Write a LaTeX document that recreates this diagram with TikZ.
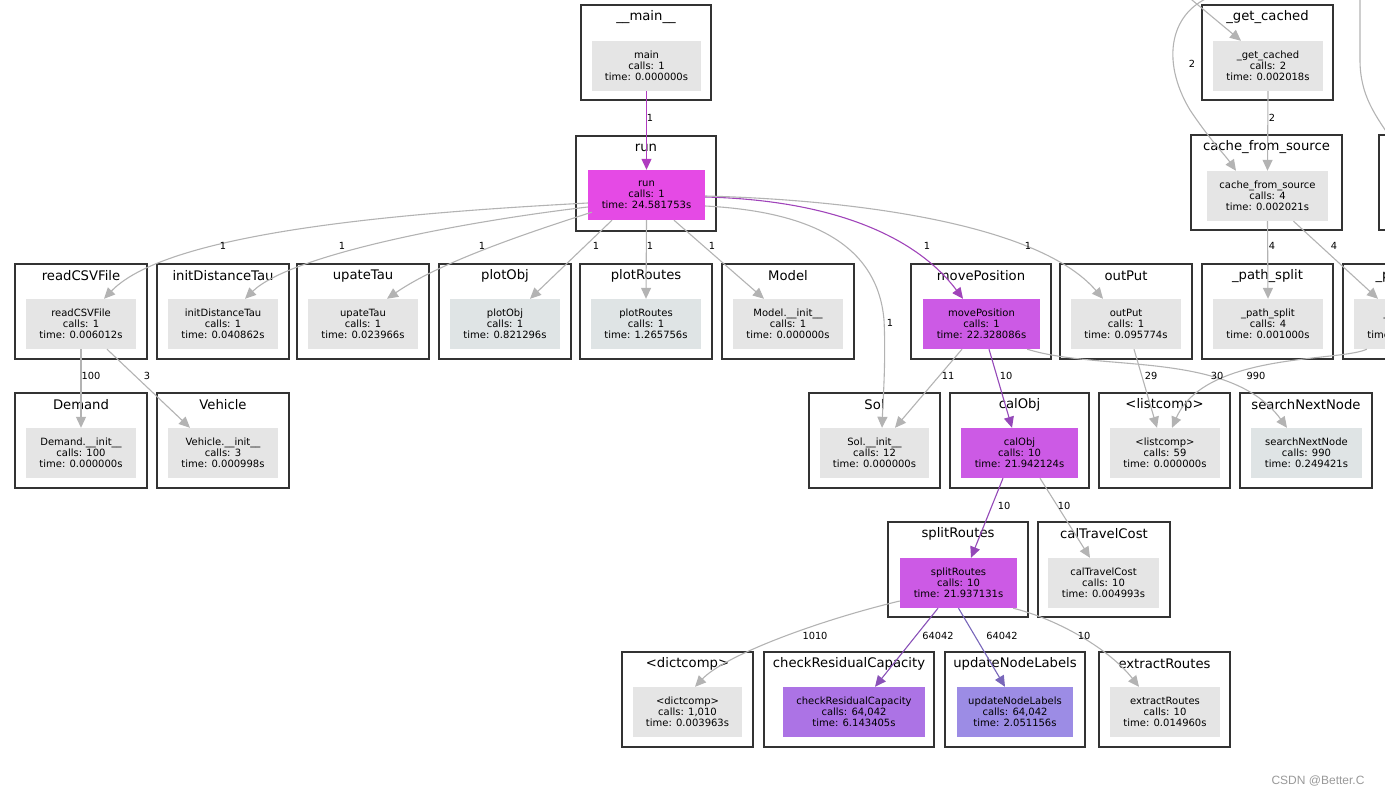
\documentclass[tikz,border=0pt]{standalone}
\usepackage{fontspec}
\setmainfont{DejaVu Sans}
\newfontfamily\wmfont{Liberation Sans}
\usetikzlibrary{arrows.meta,calc}
\definecolor{gbox}{HTML}{E5E5E5}
\definecolor{bbox}{HTML}{DFE4E5}
\definecolor{magA}{HTML}{E54AE5}
\definecolor{magB}{HTML}{CC5AE5}
\definecolor{purC}{HTML}{AC73E5}
\definecolor{purD}{HTML}{9C8CE5}
\definecolor{egray}{HTML}{B3B3B3}
\definecolor{epA}{HTML}{B03CC0}
\definecolor{epB}{HTML}{A044BA}
\definecolor{epC}{HTML}{9448B8}
\definecolor{epD}{HTML}{8A52B8}
\definecolor{epE}{HTML}{7866BA}
\definecolor{frame}{HTML}{333333}
\newcommand\Clu[5]{\node[clu, minimum width=#4] (c#1) at (#2,#3+47.5) {}; \node[ttl] (t#1) at (#2,#3+12) {#5};}
\newcommand\Inn[6]{\node[inn, fill=#5, minimum width=#4] (#1) at (#2,#3+25) {#6};}
\begin{document}
\begin{tikzpicture}[x=1pt,y=-1pt,
  clu/.style={draw=frame, line width=2.5pt, fill=white, rectangle, minimum height=95pt, inner sep=0pt},
  ttl/.style={font=\fontsize{13.2}{15}\selectfont, inner sep=0pt},
  inn/.style={rectangle, minimum height=50pt, inner sep=0pt, align=center, font=\fontsize{10}{11}\selectfont},
  ed/.style={draw=egray, line width=1.1pt, -{Triangle[length=11pt,width=10pt]}},
  edp/.style={line width=1.1pt, -{Triangle[length=11pt,width=10pt]}},
  lbl/.style={font=\fontsize{9.8}{11}\selectfont, inner sep=0pt}
]
\useasboundingbox (0,0) rectangle (1385,795);
\begin{scope}
\clip (0,0) rectangle (1385,795);
% clusters
\Clu{main}{646}{5}{130}{\_\_main\_\_}
\Clu{run}{646}{136}{140}{run}
\Clu{readcsv}{81}{264}{132}{readCSVFile}
\Clu{initdt}{223}{264}{132}{initDistanceTau}
\Clu{upate}{363}{264}{132}{upateTau}
\Clu{plotobj}{505}{264}{132}{plotObj}
\Clu{plotroutes}{646}{264}{132}{plotRoutes}
\Clu{model}{788}{264}{132}{Model}
\Clu{movepos}{981}{264}{140}{movePosition}
\Clu{output}{1126}{264}{132}{outPut}
\Clu{pathsplit}{1267.5}{264}{131}{\_path\_split}
\Clu{pathjoin}{1409}{264}{132}{\_path\_join}
\Clu{getcached}{1267.5}{5}{131}{\_get\_cached}
\Clu{cfs}{1266.5}{135}{151}{cache\_from\_source}
\node[clu, minimum width=132pt] (cright) at (1445,182.5) {};
\Clu{demand}{81}{393}{132}{Demand}
\Clu{vehicle}{223}{393}{132}{Vehicle}
\Clu{sol}{874.5}{393}{131}{Sol}
\Clu{calobj}{1019.5}{393}{139}{calObj}
\Clu{listcomp}{1164.5}{393}{131}{<listcomp>}
\Clu{search}{1306}{393}{132}{searchNextNode}
\Clu{split}{958}{522}{140}{splitRoutes}
\Clu{travel}{1104}{522}{132}{calTravelCost}
\Clu{dict}{687.5}{652}{131}{<dictcomp>}
\Clu{check}{849}{652}{170}{checkResidualCapacity}
\Clu{update}{1015}{652}{140}{updateNodeLabels}
\Clu{extract}{1164.5}{652}{131}{extractRoutes}
% inner boxes
\Inn{main}{646.5}{41}{109}{gbox}{main\\calls: 1\\time: 0.000000s}
\Inn{run}{646.5}{170}{117}{magA}{run\\calls: 1\\time: 24.581753s}
\Inn{readcsv}{81}{299}{110}{gbox}{readCSVFile\\calls: 1\\time: 0.006012s}
\Inn{initdt}{223}{299}{110}{gbox}{initDistanceTau\\calls: 1\\time: 0.040862s}
\Inn{upate}{363}{299}{110}{gbox}{upateTau\\calls: 1\\time: 0.023966s}
\Inn{plotobj}{505}{299}{110}{bbox}{plotObj\\calls: 1\\time: 0.821296s}
\Inn{plotroutes}{646}{299}{110}{bbox}{plotRoutes\\calls: 1\\time: 1.265756s}
\Inn{model}{788}{299}{110}{gbox}{Model.\_\_init\_\_\\calls: 1\\time: 0.000000s}
\Inn{movepos}{981.5}{299}{117}{magB}{movePosition\\calls: 1\\time: 22.328086s}
\Inn{output}{1126}{299}{110}{gbox}{outPut\\calls: 1\\time: 0.095774s}
\Inn{pathsplit}{1268}{299}{110}{gbox}{\_path\_split\\calls: 4\\time: 0.001000s}
\Inn{pathjoin}{1409}{299}{110}{gbox}{\_path\_join\\calls: 4\\time: 0.000000s}
\Inn{getcached}{1268}{41}{110}{gbox}{\_get\_cached\\calls: 2\\time: 0.002018s}
\Inn{cfs}{1267.5}{171}{121}{gbox}{cache\_from\_source\\calls: 4\\time: 0.002021s}
\Inn{demand}{81}{428}{110}{gbox}{Demand.\_\_init\_\_\\calls: 100\\time: 0.000000s}
\Inn{vehicle}{223}{428}{110}{gbox}{Vehicle.\_\_init\_\_\\calls: 3\\time: 0.000998s}
\Inn{sol}{874.5}{428}{109}{gbox}{Sol.\_\_init\_\_\\calls: 12\\time: 0.000000s}
\Inn{calobj}{1019.5}{428}{117}{magB}{calObj\\calls: 10\\time: 21.942124s}
\Inn{listcomp}{1165}{428}{110}{gbox}{<listcomp>\\calls: 59\\time: 0.000000s}
\Inn{search}{1306.5}{428}{111}{bbox}{searchNextNode\\calls: 990\\time: 0.249421s}
\Inn{split}{958.5}{558}{117}{magB}{splitRoutes\\calls: 10\\time: 21.937131s}
\Inn{travel}{1103.5}{558}{111}{gbox}{calTravelCost\\calls: 10\\time: 0.004993s}
\Inn{dict}{687.5}{687}{109}{gbox}{<dictcomp>\\calls: 1,010\\time: 0.003963s}
\Inn{check}{854}{687}{142}{purC}{checkResidualCapacity\\calls: 64,042\\time: 6.143405s}
\Inn{update}{1015}{687}{116}{purD}{updateNodeLabels\\calls: 64,042\\time: 2.051156s}
\Inn{extract}{1165}{687}{110}{gbox}{extractRoutes\\calls: 10\\time: 0.014960s}
% free ends
\coordinate (topA) at (1186,-5);
\coordinate (topB) at (1215,-5);
\coordinate (topC) at (1360,-5);
\coordinate (rightC) at (1392,140);
% edges
\draw[edp, draw=epA, -{Triangle[length=11pt,width=10pt,fill=epA]}] (main.south) -- (run.north);
\draw[ed] ($(run.west)+(0,8)$) .. controls (420,212) and (170,230) .. ($(readcsv.north)+(23,0)$);
\draw[ed] ($(run.west)+(0,12)$) .. controls (460,222) and (290,255) .. ($(initdt.north)+(22,0)$);
\draw[ed] ($(run.south west)+(4,-8)$) .. controls (530,232) and (440,262) .. ($(upate.north)+(24,0)$);
\draw[ed] ($(run.south)+(-34.5,0)$) -- ($(plotobj.north)+(25,0)$);
\draw[ed] (run.south) -- (plotroutes.north);
\draw[ed] ($(run.south)+(27.5,0)$) -- ($(model.north)+(-24,0)$);
\draw[ed] ($(run.east)+(0,11)$) .. controls (820,212) and (878,250) .. (884,320) .. controls (886,360) and (883,400) .. ($(sol.north)+(7.5,0)$);
\draw[edp, draw=epB, -{Triangle[length=11pt,width=10pt,fill=epB]}] ($(run.east)+(0,2)$) .. controls (830,200) and (915,235) .. ($(movepos.north)+(-18.5,0)$);
\draw[ed] ($(run.east)+(0,1)$) .. controls (860,200) and (1040,225) .. ($(output.north)+(-23,0)$);
\draw[ed] (readcsv.south) -- (demand.north);
\draw[ed] ($(readcsv.south)+(26,0)$) -- ($(vehicle.north)+(-33,0)$);
\draw[ed] ($(movepos.south)+(-19.5,0)$) -- ($(sol.north)+(20.5,0)$);
\draw[edp, draw=epC, -{Triangle[length=11pt,width=10pt,fill=epC]}] ($(movepos.south)+(7.5,0)$) -- ($(calobj.north)+(-7.5,0)$);
\draw[ed] ($(movepos.south east)+(-13,0)$) .. controls (1100,372) and (1230,350) .. ($(search.north)+(-19.5,0)$);
\draw[ed] ($(output.south)+(8,0)$) -- ($(listcomp.north)+(-8,0)$);
\draw[ed] ($(pathjoin.south west)+(13,0)$) .. controls (1340,362) and (1205,352) .. ($(listcomp.north)+(7,0)$);
\draw[edp, draw=epC, -{Triangle[length=11pt,width=10pt,fill=epC]}] ($(calobj.south)+(-16.5,0)$) -- ($(split.north)+(12.5,0)$);
\draw[ed] ($(calobj.south)+(20.5,0)$) -- ($(travel.north)+(-13.5,0)$);
\draw[ed] ($(split.west)+(0,18)$) .. controls (820,620) and (725,655) .. ($(dict.north)+(7.5,0)$);
\draw[edp, draw=epD, -{Triangle[length=11pt,width=10pt,fill=epD]}] ($(split.south)+(-20.5,0)$) -- ($(check.north)+(21,0)$);
\draw[edp, draw=epE, -{Triangle[length=11pt,width=10pt,fill=epE]}] (split.south) -- ($(update.north)+(-10,0)$);
\draw[ed] ($(split.south east)+(-4,0)$) .. controls (1060,620) and (1110,650) .. ($(extract.north)+(-26,0)$);
\draw[ed] (getcached.south) -- (cfs.north);
\draw[ed] (cfs.south) -- (pathsplit.north);
\draw[ed] ($(cfs.south)+(26,0)$) -- ($(pathjoin.north)+(-31,0)$);
\draw[ed] (topA) -- ($(getcached.north)+(-27,0)$);
\draw[ed] (topB) .. controls (1170,10) and (1160,60) .. (1190,110) .. controls (1210,140) and (1225,155) .. ($(cfs.north)+(-31.5,0)$);
\draw[draw=egray, line width=1.1pt] (topC) -- (1360,60) .. controls (1360,95) and (1375,115) .. (rightC);
\end{scope}
% labels
\node[lbl] (l1) at (650,118) {1};
\node[lbl] (l2) at (223,246) {1};
\node[lbl] (l3) at (342,246) {1};
\node[lbl] (l4) at (482,246) {1};
\node[lbl] (l5) at (596,246) {1};
\node[lbl] (l6) at (650,246) {1};
\node[lbl] (l7) at (712,246) {1};
\node[lbl] (l8) at (927,246) {1};
\node[lbl] (l9) at (1028,246) {1};
\node[lbl] (l10) at (890,323) {1};
\node[lbl] (l11) at (91,376) {100};
\node[lbl] (l12) at (147,376) {3};
\node[lbl] (l13) at (948,376) {11};
\node[lbl] (l14) at (1006,376) {10};
\node[lbl] (l15) at (1151,376) {29};
\node[lbl] (l16) at (1217,376) {30};
\node[lbl] (l17) at (1256,376) {990};
\node[lbl] (l18) at (1004,506) {10};
\node[lbl] (l19) at (1064,506) {10};
\node[lbl] (l20) at (815,636) {1010};
\node[lbl] (l21) at (938,636) {64042};
\node[lbl] (l22) at (1002,636) {64042};
\node[lbl] (l23) at (1084,636) {10};
\node[lbl] (l24) at (1272,118) {2};
\node[lbl] (l25) at (1192,64) {2};
\node[lbl] (l26) at (1272,246) {4};
\node[lbl] (l27) at (1334,246) {4};
\node[font=\wmfont\fontsize{12}{14}\selectfont, text=black!40, inner sep=0pt] (wm) at (1318,781) {CSDN @Better.C};
\end{tikzpicture}
\end{document}
